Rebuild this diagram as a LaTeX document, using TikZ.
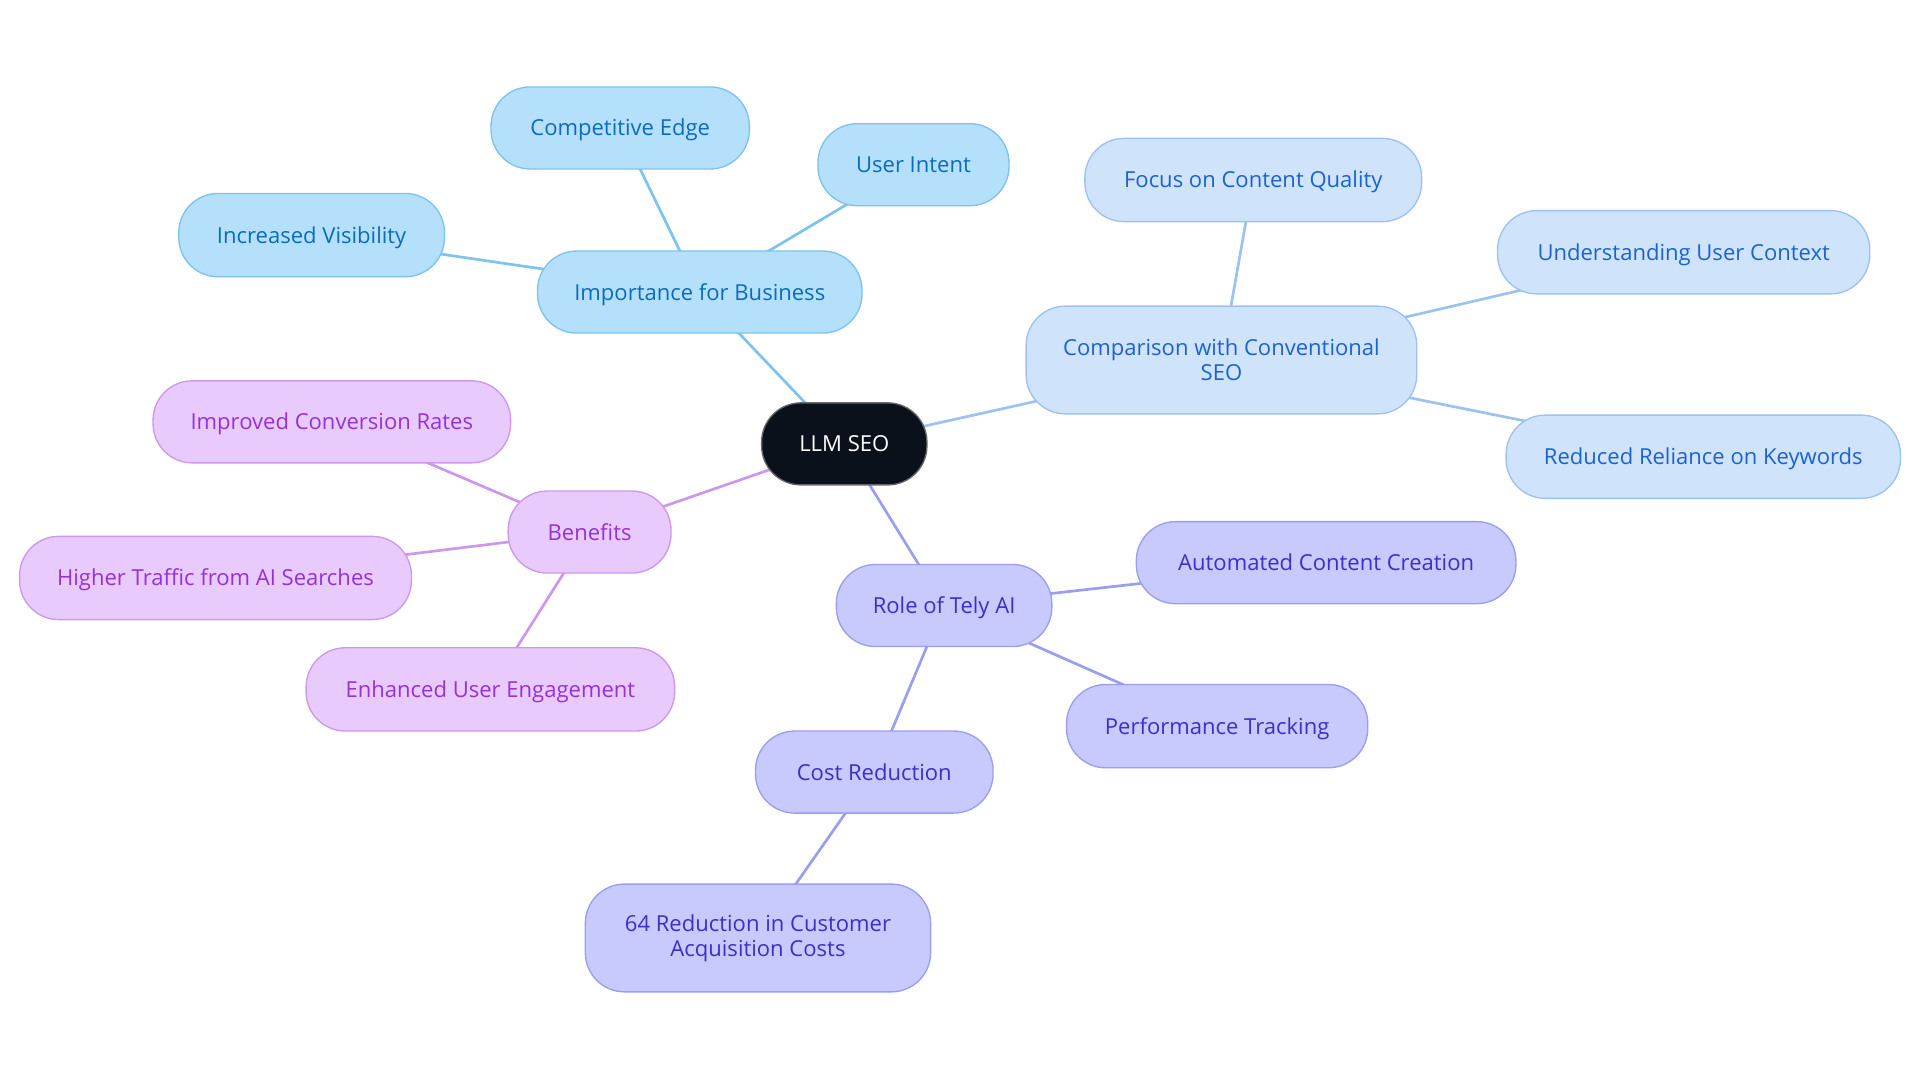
\documentclass[tikz,border=0pt]{standalone}
\usepackage{fontspec}
\setmainfont{Open Sans}
\definecolor{bFill}{HTML}{B5E0FC}\definecolor{bLine}{HTML}{7DC3EE}\definecolor{bText}{HTML}{0A6CBE}
\definecolor{cFill}{HTML}{CFE3FB}\definecolor{cLine}{HTML}{9DC2F0}\definecolor{cText}{HTML}{1B63D0}
\definecolor{pFill}{HTML}{E9CAFC}\definecolor{pLine}{HTML}{CC98EE}\definecolor{pText}{HTML}{9530DE}
\definecolor{iFill}{HTML}{C8C9FC}\definecolor{iLine}{HTML}{9A9EEE}\definecolor{iText}{HTML}{3A30CC}
\definecolor{kFill}{HTML}{0B111A}
\pgfdeclarelayer{bg}\pgfsetlayers{bg,main}
\tikzset{
  pill/.style={rounded corners=32pt, inner sep=0pt, align=center, line width=1.1pt,
    font=\fontsize{18}{20.7}\selectfont},
  one/.style={text height=14pt, text depth=1pt},
  bnode/.style={pill, draw=bLine, fill=bFill, text=bText},
  cnode/.style={pill, draw=cLine, fill=cFill, text=cText},
  pnode/.style={pill, draw=pLine, fill=pFill, text=pText},
  inode/.style={pill, draw=iLine, fill=iFill, text=iText},
  knode/.style={pill, draw=black!60, fill=kFill, text=white},
  sz/.style 2 args={minimum width=#1pt, minimum height=#2pt},
  bedge/.style={draw=bLine, line width=2.2pt},
  cedge/.style={draw=cLine, line width=2.2pt},
  pedge/.style={draw=pLine, line width=2.2pt},
  iedge/.style={draw=iLine, line width=2.2pt},
}
\begin{document}
\begin{tikzpicture}[x=1pt,y=-1pt]
\useasboundingbox (0,0) rectangle (1568,884.45);
\node[knode, one, sz={135}{67}] (root) at (689.5,362.5) {LLM SEO};
% blue
\node[bnode, one, sz={265}{67}] (imp) at (571.5,238.5) {Importance for Business};
\node[bnode, one, sz={211}{67}] (comp) at (506.5,104.5) {Competitive Edge};
\node[bnode, one, sz={156}{67}] (user) at (746,134.5) {User Intent};
\node[bnode, one, sz={217}{68}] (vis) at (254.5,192) {Increased Visibility};
% comparison
\node[cnode, sz={319}{88}] (cmp) at (997.5,294) {Comparison with Conventional\\SEO};
\node[cnode, one, sz={275}{68}] (focus) at (1023.5,147) {Focus on Content Quality};
\node[cnode, one, sz={304}{68}] (ctx) at (1375,206) {Understanding User Context};
\node[cnode, one, sz={322}{68}] (kw) at (1391,373) {Reduced Reliance on Keywords};
% benefits
\node[pnode, one, sz={133}{67}] (ben) at (481.5,434.5) {Benefits};
\node[pnode, one, sz={292}{67}] (conv) at (271,344.5) {Improved Conversion Rates};
\node[pnode, one, sz={320}{68}] (traf) at (176,472) {Higher Traffic from AI Searches};
\node[pnode, one, sz={301}{68}] (eng) at (400.5,563) {Enhanced User Engagement};
% tely
\node[inode, one, sz={176}{67}] (tely) at (771,494.5) {Role of Tely AI};
\node[inode, one, sz={310}{67}] (auto) at (1083,459.5) {Automated Content Creation};
\node[inode, one, sz={246}{68}] (perf) at (994,593) {Performance Tracking};
\node[inode, one, sz={194}{67}] (cost) at (714,630.5) {Cost Reduction};
\node[inode, sz={282}{88}] (cac) at (619,766) {64 Reduction in Customer\\Acquisition Costs};
\begin{pgfonlayer}{bg}
\draw[bedge] (root.center) -- (imp.center);
\draw[bedge] (imp.center) -- (comp.center);
\draw[bedge] (imp.center) -- (user.center);
\draw[bedge] (imp.center) -- (vis.center);
\draw[cedge] (root.center) -- (cmp.center);
\draw[cedge] (cmp.center) -- (focus.center);
\draw[cedge] (cmp.center) -- (ctx.center);
\draw[cedge] (cmp.center) -- (kw.center);
\draw[pedge] (root.center) -- (ben.center);
\draw[pedge] (ben.center) -- (conv.center);
\draw[pedge] (ben.center) -- (traf.center);
\draw[pedge] (ben.center) -- (eng.center);
\draw[iedge] (root.center) -- (tely.center);
\draw[iedge] (tely.center) -- (auto.center);
\draw[iedge] (tely.center) -- (perf.center);
\draw[iedge] (tely.center) -- (cost.center);
\draw[iedge] (cost.center) -- (cac.center);
\end{pgfonlayer}
\end{tikzpicture}
\end{document}
